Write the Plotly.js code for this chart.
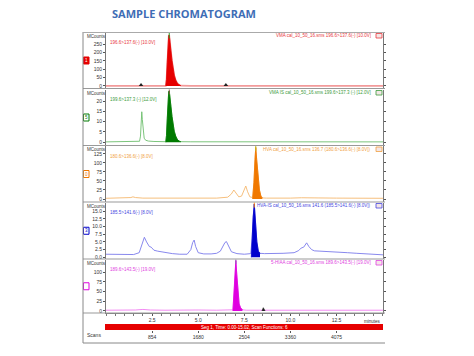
<!DOCTYPE html>
<html>
<head>
<meta charset="utf-8">
<script src="https://cdn.plot.ly/plotly-3.0.1.min.js"></script>
<style>html,body{margin:0;padding:0;background:#fff;}#chart{width:474px;height:356px;}</style>
</head>
<body>
<div id="chart"></div>
<script>
// ---------- DATA ----------
const chartTitle = "SAMPLE CHROMATOGRAM";

// Panel 1: VMA
const vmaTime   = [0,0.5,1.0,1.5,1.9,2.4,3.0,3.24,3.28,3.32,3.36,3.40,3.43,3.47,3.52,3.58,3.64,3.70,3.78,3.86,3.96,4.06,4.6,5.5,6.5,7.5,9,10.5,12,13.5,15.02];
const vmaSignal = [1,1,1,1,1.5,1,1,1,40,140,250,300,305,275,210,150,100,65,35,18,7,2,1,1,1.5,1,1,1,1,1,1];
const vmaPeakTime   = [3.24,3.28,3.32,3.36,3.40,3.43,3.47,3.52,3.58,3.64,3.70,3.78,3.86,3.96,4.06];
const vmaPeakSignal = [0,40,140,250,300,305,275,210,150,100,65,35,18,7,2];
const vmaMarkTime  = [1.9, 6.5];
const vmaMarkValue = [6, 6];

// Panel 2: VMA IS
const vmaIsTime   = [0,0.6,1.2,1.6,1.82,1.87,1.91,1.94,1.97,2.01,2.07,2.15,2.3,2.6,3.0,3.24,3.28,3.32,3.36,3.40,3.43,3.47,3.52,3.58,3.64,3.70,3.78,3.86,3.96,4.06,4.6,5.5,6.5,7.5,9,10.5,12,13.5,15.02];
const vmaIsSignal = [0.2,0.2,0.25,0.3,0.5,3,10,14.8,11,5,2,1,0.6,0.4,0.35,0.3,3.3,11.5,20.5,24.5,24.9,22.5,17.5,12.5,8.3,5.4,3,1.5,0.6,0.3,0.25,0.25,0.3,0.25,0.25,0.2,0.2,0.2,0.2];
const vmaIsPeakTime   = [3.24,3.28,3.32,3.36,3.40,3.43,3.47,3.52,3.58,3.64,3.70,3.78,3.86,3.96,4.06];
const vmaIsPeakSignal = [0,3.3,11.5,20.5,24.5,24.9,22.5,17.5,12.5,8.3,5.4,3,1.5,0.6,0.3];

// Panel 3: HVA
const hvaTime   = [0,0.6,1.1,1.35,1.46,1.6,2.0,3.0,4.0,5.0,6.0,6.6,6.8,6.93,7.05,7.2,7.35,7.48,7.58,7.68,7.8,7.95,8.02,8.08,8.12,8.17,8.24,8.32,8.40,8.48,8.7,9.2,10.0,10.6,11.0,11.5,12.5,13.5,14.5,15.02];
const hvaSignal = [2,2,2.5,4,6,4,2.5,2,2,2,2.5,5,14,25,15,6,8,22,36,20,6,4,45,110,143,110,60,25,8,3,2.5,2,2.5,3.5,4,3,2.5,2,2,2];
const hvaPeakTime   = [7.95,8.02,8.08,8.12,8.17,8.24,8.32,8.40,8.48];
const hvaPeakSignal = [0,45,110,143,110,60,25,8,3];

// Panel 4: HVA IS
const hvaIsTime   = [0,0.5,1.0,1.5,1.8,1.95,2.08,2.2,2.35,2.45,2.6,2.8,3.2,3.6,4.0,4.4,4.6,4.7,4.78,4.86,5.0,5.3,5.7,6.0,6.2,6.32,6.45,6.53,6.62,6.8,7.1,7.5,7.85,7.92,7.98,8.04,8.1,8.18,8.26,8.35,8.6,9.0,9.6,10.2,10.45,10.58,10.72,10.88,11.0,11.15,11.3,11.6,12.0,12.5,13.1,13.6,14.0,14.5,15.02];
const hvaIsSignal = [1.0,1.0,0.9,0.9,1.5,4.5,6.5,5,3.5,3.3,2.3,2.0,1.5,1.2,1.0,1.0,2.5,4.8,5.6,3.5,1.5,1.1,1.1,1.3,2.0,3.4,4.8,5.1,4.0,1.8,1.2,1.0,1.2,6,13,17.3,12,5,2,1.3,1.2,1.2,1.3,1.5,2.2,3.0,3.3,4.7,3.5,2.5,2.1,2.0,1.8,1.7,1.5,1.3,1.1,0.9,0.8];
const hvaIsPeakTime   = [7.88,7.92,7.98,8.04,8.1,8.18,8.26,8.35];
const hvaIsPeakSignal = [0,6,13,17.3,12,5,2,1.3];

// Panel 5: 5-HIAA
const hiaaTime   = [0,0.8,1.6,2.0,2.4,3.2,4.0,4.5,5.0,6.0,6.7,6.88,6.94,7.0,7.04,7.09,7.15,7.22,7.3,7.4,7.6,8.0,8.4,8.53,8.65,9.0,10.0,11.0,12.0,13.0,14.0,15.02];
const hiaaSignal = [2,2,2.5,4,2.5,2,2.5,4,2.5,2,2,3,40,105,130,95,45,18,8,3,2,2,2,2.5,2,2,2,2.5,2,2,2,2];
const hiaaPeakTime   = [6.88,6.94,7.0,7.04,7.09,7.15,7.22,7.3,7.4];
const hiaaPeakSignal = [0,40,105,130,95,45,18,8,3];
const hiaaMinorTime   = [8.45,8.50,8.53,8.57,8.63];
const hiaaMinorSignal = [0,5,8.5,5,0];

// apex marks
const apexTime  = [3.43, 3.43, 8.12, 8.04, 7.04];
const apexValue = [305, 24.9, 143, 17.3, 130];

// tick labels
const vmaTicks   = [0,50,100,150,200,250];
const vmaIsTicks = [0,5,10,15,20];
const hvaTicks   = [0,25,50,75,100,125];
const hvaIsTicks = [0,2.5,5,7.5,10,12.5,15];
const hvaIsTickText = ["0.0","2.5","5.0","7.5","10.0","12.5","15.0"];
const hiaaTicks  = [0,25,50,75,100];
const timeTicks    = [2.5,5,7.5,10,12.5];
const timeTickText = ["2.5","5.0","7.5","10.0","12.5"];
const scanTickText = ["854","1680","2504","3360","4075"];

const leftLabels  = ["196.6>137.6(-) [10.0V]","199.6>137.3 (-) [12.0V]","180.6>136.6(-) [8.0V]","185.5>141.6(-) [8.0V]","189.6>143.5(-) [19.0V]"];
const rightLabels = ["VMA cal_10_50_16.sms 196.6>137.6(-) [10.0V]","VMA IS cal_10_50_16.sms 199.6>137.3 (-) [12.0V]","HVA cal_10_50_16.sms 136.7 (180.6>136.6(-) [8.0V])","HVA-IS cal_10_50_16.sms 141.6 (185.5>141.6(-) [8.0V])","5-HIAA cal_10_50_16.sms 189.6>143.5(-) [19.0V]"];
const boxLabels = ["1","5","0","3",""];
const segText = "Seg 1, Time: 0.00-15.02, Scan Functions: 6";

// ---------- STYLE / LAYOUT ----------
const W = 474, H = 356;
const px = v => v / W;
const py = v => 1 - v / H;
const lineCol = ["#F29A9A","#6DBE6D","#F5B86E","#7B7BEB","#F07AF0"];
const fillCol = ["#E60000","#007A00","#F07800","#0000CD","#E000E0"];
const textCol = ["#E8383D","#3A9A3A","#F0A040","#4545E0","#E040E0"];
// panel pixel bounds [top,bottom] and y ranges
const panels = [
  {top:32.5, bot:88.5,  range:[-15,320],    tv:vmaTicks,   tt:vmaTicks.map(String)},
  {top:89.5, bot:145.5, range:[-1.55,25.6], tv:vmaIsTicks, tt:vmaIsTicks.map(String)},
  {top:146,  bot:202,   range:[-8.3,147],   tv:hvaTicks,   tt:hvaTicks.map(String)},
  {top:202.5,bot:259,   range:[-0.55,17.8], tv:hvaIsTicks, tt:hvaIsTickText},
  {top:259.5,bot:313,   range:[-5.2,132.7], tv:hiaaTicks,  tt:hiaaTicks.map(String)}
];
const series = [
  [vmaTime, vmaSignal, vmaPeakTime, vmaPeakSignal],
  [vmaIsTime, vmaIsSignal, vmaIsPeakTime, vmaIsPeakSignal],
  [hvaTime, hvaSignal, hvaPeakTime, hvaPeakSignal],
  [hvaIsTime, hvaIsSignal, hvaIsPeakTime, hvaIsPeakSignal],
  [hiaaTime, hiaaSignal, hiaaPeakTime, hiaaPeakSignal]
];

const traces = [];
series.forEach((s, i) => {
  const ya = i === 0 ? "y" : "y" + (i + 1);
  traces.push({x:s[0], y:s[1], xaxis:"x", yaxis:ya, mode:"lines", line:{color:lineCol[i], width: i===0?1.6:0.9}, hoverinfo:"skip"});
  traces.push({x:s[2], y:s[3], xaxis:"x", yaxis:ya, mode:"lines", fill:"tozeroy", fillcolor:fillCol[i], line:{color:fillCol[i], width:0.8}, hoverinfo:"skip"});
  traces.push({x:[apexTime[i]], y:[apexValue[i]], xaxis:"x", yaxis:ya, mode:"markers", marker:{symbol:"line-ns-open", size:5, line:{color:"#222", width:1}}, hoverinfo:"skip"});
});
traces.push({x:vmaMarkTime, y:vmaMarkValue, xaxis:"x", yaxis:"y", mode:"markers", marker:{symbol:"triangle-up", size:4, color:"#222"}, hoverinfo:"skip"});
traces.push({x:hiaaMinorTime, y:hiaaMinorSignal, xaxis:"x", yaxis:"y5", mode:"lines", fill:"tozeroy", fillcolor:"#222", line:{color:"#222", width:0.6}, hoverinfo:"skip"});
traces.push({x:timeTicks, y:[0,0,0,0,0], xaxis:"x2", yaxis:"y5", mode:"markers", marker:{size:0.1, opacity:0}, hoverinfo:"skip"});

const tickFont = {family:"Liberation Sans, Arial, sans-serif", size:5, color:"#333"};
const layout = {
  width:W, height:H, margin:{l:0,r:0,t:0,b:0}, showlegend:false,
  paper_bgcolor:"#fff", plot_bgcolor:"rgba(0,0,0,0)",
  xaxis:{domain:[px(106), px(383)], range:[0,15.02], anchor:"y5", tickvals:timeTicks, ticktext:timeTickText,
         ticks:"outside", ticklen:2, tickcolor:"#555", showline:true, linecolor:"#777", linewidth:1, showgrid:false, zeroline:false,
         tickfont:tickFont, minor:{tickmode:"linear", tick0:0, dtick:0.5, ticks:"outside", ticklen:1.5, tickcolor:"#777"}},
  xaxis2:{overlaying:"x", anchor:"free", position:py(330), side:"bottom", range:[0,15.02], domain:[px(106), px(383)],
          tickvals:timeTicks, ticktext:scanTickText, ticks:"outside", ticklen:1.5, tickcolor:"#555",
          showline:false, showgrid:false, zeroline:false, tickfont:tickFont},
  shapes:[], annotations:[]
};
panels.forEach((p, i) => {
  const key = i === 0 ? "yaxis" : "yaxis" + (i + 1);
  layout[key] = {domain:[py(p.bot), py(p.top)], range:p.range, anchor:"x", tickvals:p.tv, ticktext:p.tt,
    ticks:"outside", ticklen:2, tickcolor:"#555", showline:true, linecolor:"#777", linewidth:1, mirror:"ticks",
    showgrid:false, zeroline:false, tickfont:tickFont, fixedrange:true};
  // separators
  layout.shapes.push({type:"line", xref:"paper", yref:"paper", x0:px(83), x1:px(385), y0:py(p.bot), y1:py(p.bot), line:{color:"#999", width:1}});
  // MCounts
  layout.annotations.push({xref:"paper", yref:"paper", x:px(85), y:py(p.top + 3.5), xanchor:"left", yanchor:"middle", text:"MCounts", showarrow:false, font:{family:"Liberation Sans, Arial", size:4.5, color:"#333"}});
  // left label in panel
  layout.annotations.push({xref:"paper", yref:"paper", x:px(108), y:py(p.top + 10), xanchor:"left", yanchor:"middle", text:leftLabels[i], showarrow:false, font:{family:"Liberation Sans, Arial", size:4.5, color:textCol[i]}});
  // right label
  layout.annotations.push({xref:"paper", yref:"paper", x:px(373), y:py(p.top + 3.2), xanchor:"right", yanchor:"middle", text:rightLabels[i], showarrow:false, font:{family:"Liberation Sans, Arial", size:4.5, color:textCol[i]}});
  // small icon box right
  layout.shapes.push({type:"rect", xref:"paper", yref:"paper", x0:px(376), x1:px(382), y0:py(p.top + 5.5), y1:py(p.top + 1), fillcolor:"#f3e6e6", line:{color:textCol[i], width:0.8}});
  // colored box on the left
  const mid = (p.top + p.bot) / 2;
  layout.shapes.push({type:"rect", xref:"paper", yref:"paper", x0:px(83.5), x1:px(89), y0:py(mid + 3.5), y1:py(mid - 3.5),
    fillcolor: i === 0 ? fillCol[0] : "#fff", line:{color:fillCol[i], width:1}});
  layout.annotations.push({xref:"paper", yref:"paper", x:px(86.3), y:py(mid), xanchor:"center", yanchor:"middle", text:boxLabels[i], showarrow:false,
    font:{family:"Liberation Sans, Arial", size:4.5, color: i === 0 ? "#fff" : fillCol[i]}});
});
// outer frame
layout.shapes.push({type:"line", xref:"paper", yref:"paper", x0:px(83), x1:px(83), y0:py(32), y1:py(343), line:{color:"#888", width:1}});
layout.shapes.push({type:"line", xref:"paper", yref:"paper", x0:px(83), x1:px(385), y0:py(343), y1:py(343), line:{color:"#888", width:1}});
layout.shapes.push({type:"line", xref:"paper", yref:"paper", x0:px(83), x1:px(385), y0:py(32.5), y1:py(32.5), line:{color:"#aaa", width:1}});
// red segment bar
layout.shapes.push({type:"rect", xref:"paper", yref:"paper", x0:px(105), x1:px(383), y0:py(330), y1:py(324), fillcolor:"#E60000", line:{width:0}});
layout.annotations.push({xref:"paper", yref:"paper", x:px(244), y:py(327), xanchor:"center", yanchor:"middle", text:segText, showarrow:false, font:{family:"Liberation Sans, Arial", size:4.5, color:"#fff"}});
layout.annotations.push({xref:"paper", yref:"paper", x:px(103), y:py(335), xanchor:"right", yanchor:"middle", text:"Scans", showarrow:false, font:{family:"Liberation Sans, Arial", size:5, color:"#333"}});
layout.annotations.push({xref:"paper", yref:"paper", x:px(383), y:py(321), xanchor:"right", yanchor:"middle", text:"minutes", showarrow:false, font:{family:"Liberation Sans, Arial", size:4.5, color:"#333"}});
// title
layout.annotations.push({xref:"paper", yref:"paper", x:px(184), y:py(14), xanchor:"center", yanchor:"middle", text:"<b>" + chartTitle + "</b>", showarrow:false, font:{family:"Open Sans, Lato, sans-serif", size:11, color:"#3E6DB5"}});

Plotly.newPlot("chart", traces, layout, {staticPlot:true, displayModeBar:false});
</script>
</body>
</html>
